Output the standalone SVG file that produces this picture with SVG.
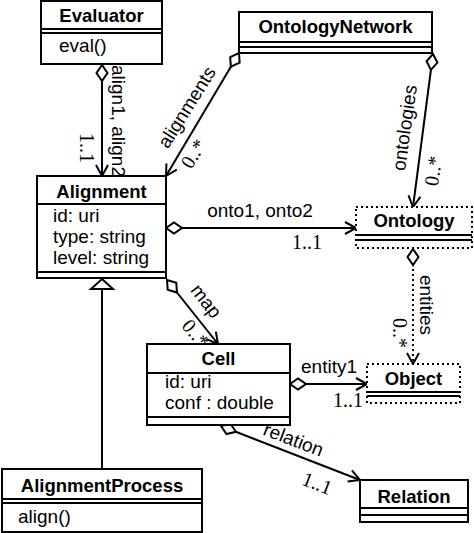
<svg xmlns="http://www.w3.org/2000/svg" width="474" height="533" viewBox="0 0 474 533">
<style>
.box{fill:#fff;stroke:#000;stroke-width:2}
.dot{fill:#fff;stroke:#000;stroke-width:2;stroke-dasharray:2 3}
.sep{stroke:#000;stroke-width:2;fill:none}
.title{font-family:"Liberation Sans",Arial,sans-serif;font-weight:bold;font-size:18.5px;text-anchor:middle}
.attr{font-family:"Liberation Sans",Arial,sans-serif;font-size:19px}
.lbl{font-family:"Liberation Sans",Arial,sans-serif;font-size:19px;text-anchor:middle}
.mult{font-family:"Liberation Serif","Times New Roman",serif;font-size:20px;text-anchor:middle}
.conn{fill:none;stroke:#000;stroke-width:2}
.dotted{stroke-dasharray:2 3}
</style>
<defs>
<marker id="dia" markerUnits="userSpaceOnUse" markerWidth="20" markerHeight="14" refX="0" refY="0" orient="auto" overflow="visible">
<path d="M0,0 L8,-5.5 L16,0 L8,5.5 Z" fill="#fff" stroke="#000" stroke-width="2"/>
</marker>
<marker id="arr" markerUnits="userSpaceOnUse" markerWidth="14" markerHeight="14" refX="0" refY="0" orient="auto" overflow="visible">
<path d="M-11,-6 L0,0 L-11,6" fill="none" stroke="#000" stroke-width="2"/>
</marker>
</defs>

<g id="connectors">
<path class="conn" d="M102,65 L102,176" marker-start="url(#dia)" marker-end="url(#arr)"/>
<path class="conn" d="M239,53 L166,176" marker-start="url(#dia)" marker-end="url(#arr)"/>
<path class="conn" d="M433,54 L413,207" marker-start="url(#dia)" marker-end="url(#arr)"/>
<path class="conn" d="M166,228 L356,228" marker-start="url(#dia)" marker-end="url(#arr)"/>
<path class="conn dotted" d="M413,249 L413,364" marker-start="url(#dia)" marker-end="url(#arr)"/>
<path class="conn" d="M167,280 L218,344" marker-start="url(#dia)" marker-end="url(#arr)"/>
<path class="conn" d="M290,384 L367,384" marker-start="url(#dia)" marker-end="url(#arr)"/>
<path class="conn" d="M221,426 L360,480" marker-start="url(#dia)" marker-end="url(#arr)"/>
<path class="conn" d="M102,289 L102,469"/>
<path d="M102,279 L113,289 L91,289 Z" fill="#fff" stroke="#000" stroke-width="2"/>

<text class="lbl" transform="translate(112,121) rotate(90)">align1, align2</text>
<text class="mult" transform="translate(80,148) rotate(90)">1..1</text>
<text class="lbl" transform="translate(188,108) rotate(-58)" y="5">alignments</text>
<text class="mult" transform="translate(194,154) rotate(-58)" y="6">0..*</text>
<text class="lbl" transform="translate(406,128) rotate(-82)" y="5">ontologies</text>
<text class="mult" transform="translate(434,171) rotate(-82)" y="6">0..*</text>
<text class="lbl" x="260" y="217">onto1, onto2</text>
<text class="mult" x="307" y="249">1..1</text>
<text class="lbl" transform="translate(420,305) rotate(90)">entities</text>
<text class="mult" transform="translate(393,333) rotate(90)">0..*</text>
<text class="lbl" transform="translate(205,302) rotate(52)" y="5">map</text>
<text class="mult" transform="translate(195,334) rotate(50)" y="6">0..*</text>
<text class="lbl" x="329" y="373">entity1</text>
<text class="mult" x="348" y="407">1..1</text>
<text class="lbl" transform="translate(293,441) rotate(21)" y="5">relation</text>
<text class="mult" transform="translate(317,484) rotate(21)" y="6">1..1</text>
</g>

<g id="Evaluator">
<rect class="box" x="41" y="1" width="121" height="63"/>
<path class="sep" d="M41,29 H162 M41,33 H162"/>
<text class="title" x="101.5" y="22">Evaluator</text>
<text class="attr" x="59" y="52">eval()</text>
</g>

<g id="OntologyNetwork">
<rect class="box" x="239" y="12" width="193" height="41"/>
<path class="sep" d="M239,42 H432 M239,47 H432"/>
<text class="title" x="335.5" y="33">OntologyNetwork</text>
</g>

<g id="Alignment">
<rect class="box" x="37" y="176" width="129" height="102"/>
<path class="sep" d="M37,204 H166 M37,272 H166"/>
<text class="title" x="101.5" y="198">Alignment</text>
<text class="attr" x="53" y="222">id: uri</text>
<text class="attr" x="53" y="243">type: string</text>
<text class="attr" x="53" y="264">level: string</text>
</g>

<g id="Ontology">
<rect class="dot" x="356" y="207" width="116" height="41"/>
<path class="sep" d="M356,235 H472 M356,240 H472"/>
<text class="title" x="414" y="227">Ontology</text>
</g>

<g id="Cell">
<rect class="box" x="147" y="344" width="143" height="81"/>
<path class="sep" d="M147,373 H290 M147,417 H290"/>
<text class="title" x="218.5" y="365">Cell</text>
<text class="attr" x="165" y="388">id: uri</text>
<text class="attr" x="165" y="409">conf : double</text>
</g>

<g id="Object">
<rect class="dot" x="367" y="364" width="93" height="39"/>
<path class="sep" d="M367,392 H460 M367,396 H460"/>
<text class="title" x="413.5" y="385">Object</text>
</g>

<g id="Relation">
<rect class="box" x="360" y="480" width="108" height="42"/>
<path class="sep" d="M360,508 H468 M360,515 H468"/>
<text class="title" x="414" y="503">Relation</text>
</g>

<g id="AlignmentProcess">
<rect class="box" x="2" y="469" width="200" height="63"/>
<path class="sep" d="M2,499 H202 M2,503 H202"/>
<text class="title" x="102" y="492">AlignmentProcess</text>
<text class="attr" x="18" y="523">align()</text>
</g>
</svg>
